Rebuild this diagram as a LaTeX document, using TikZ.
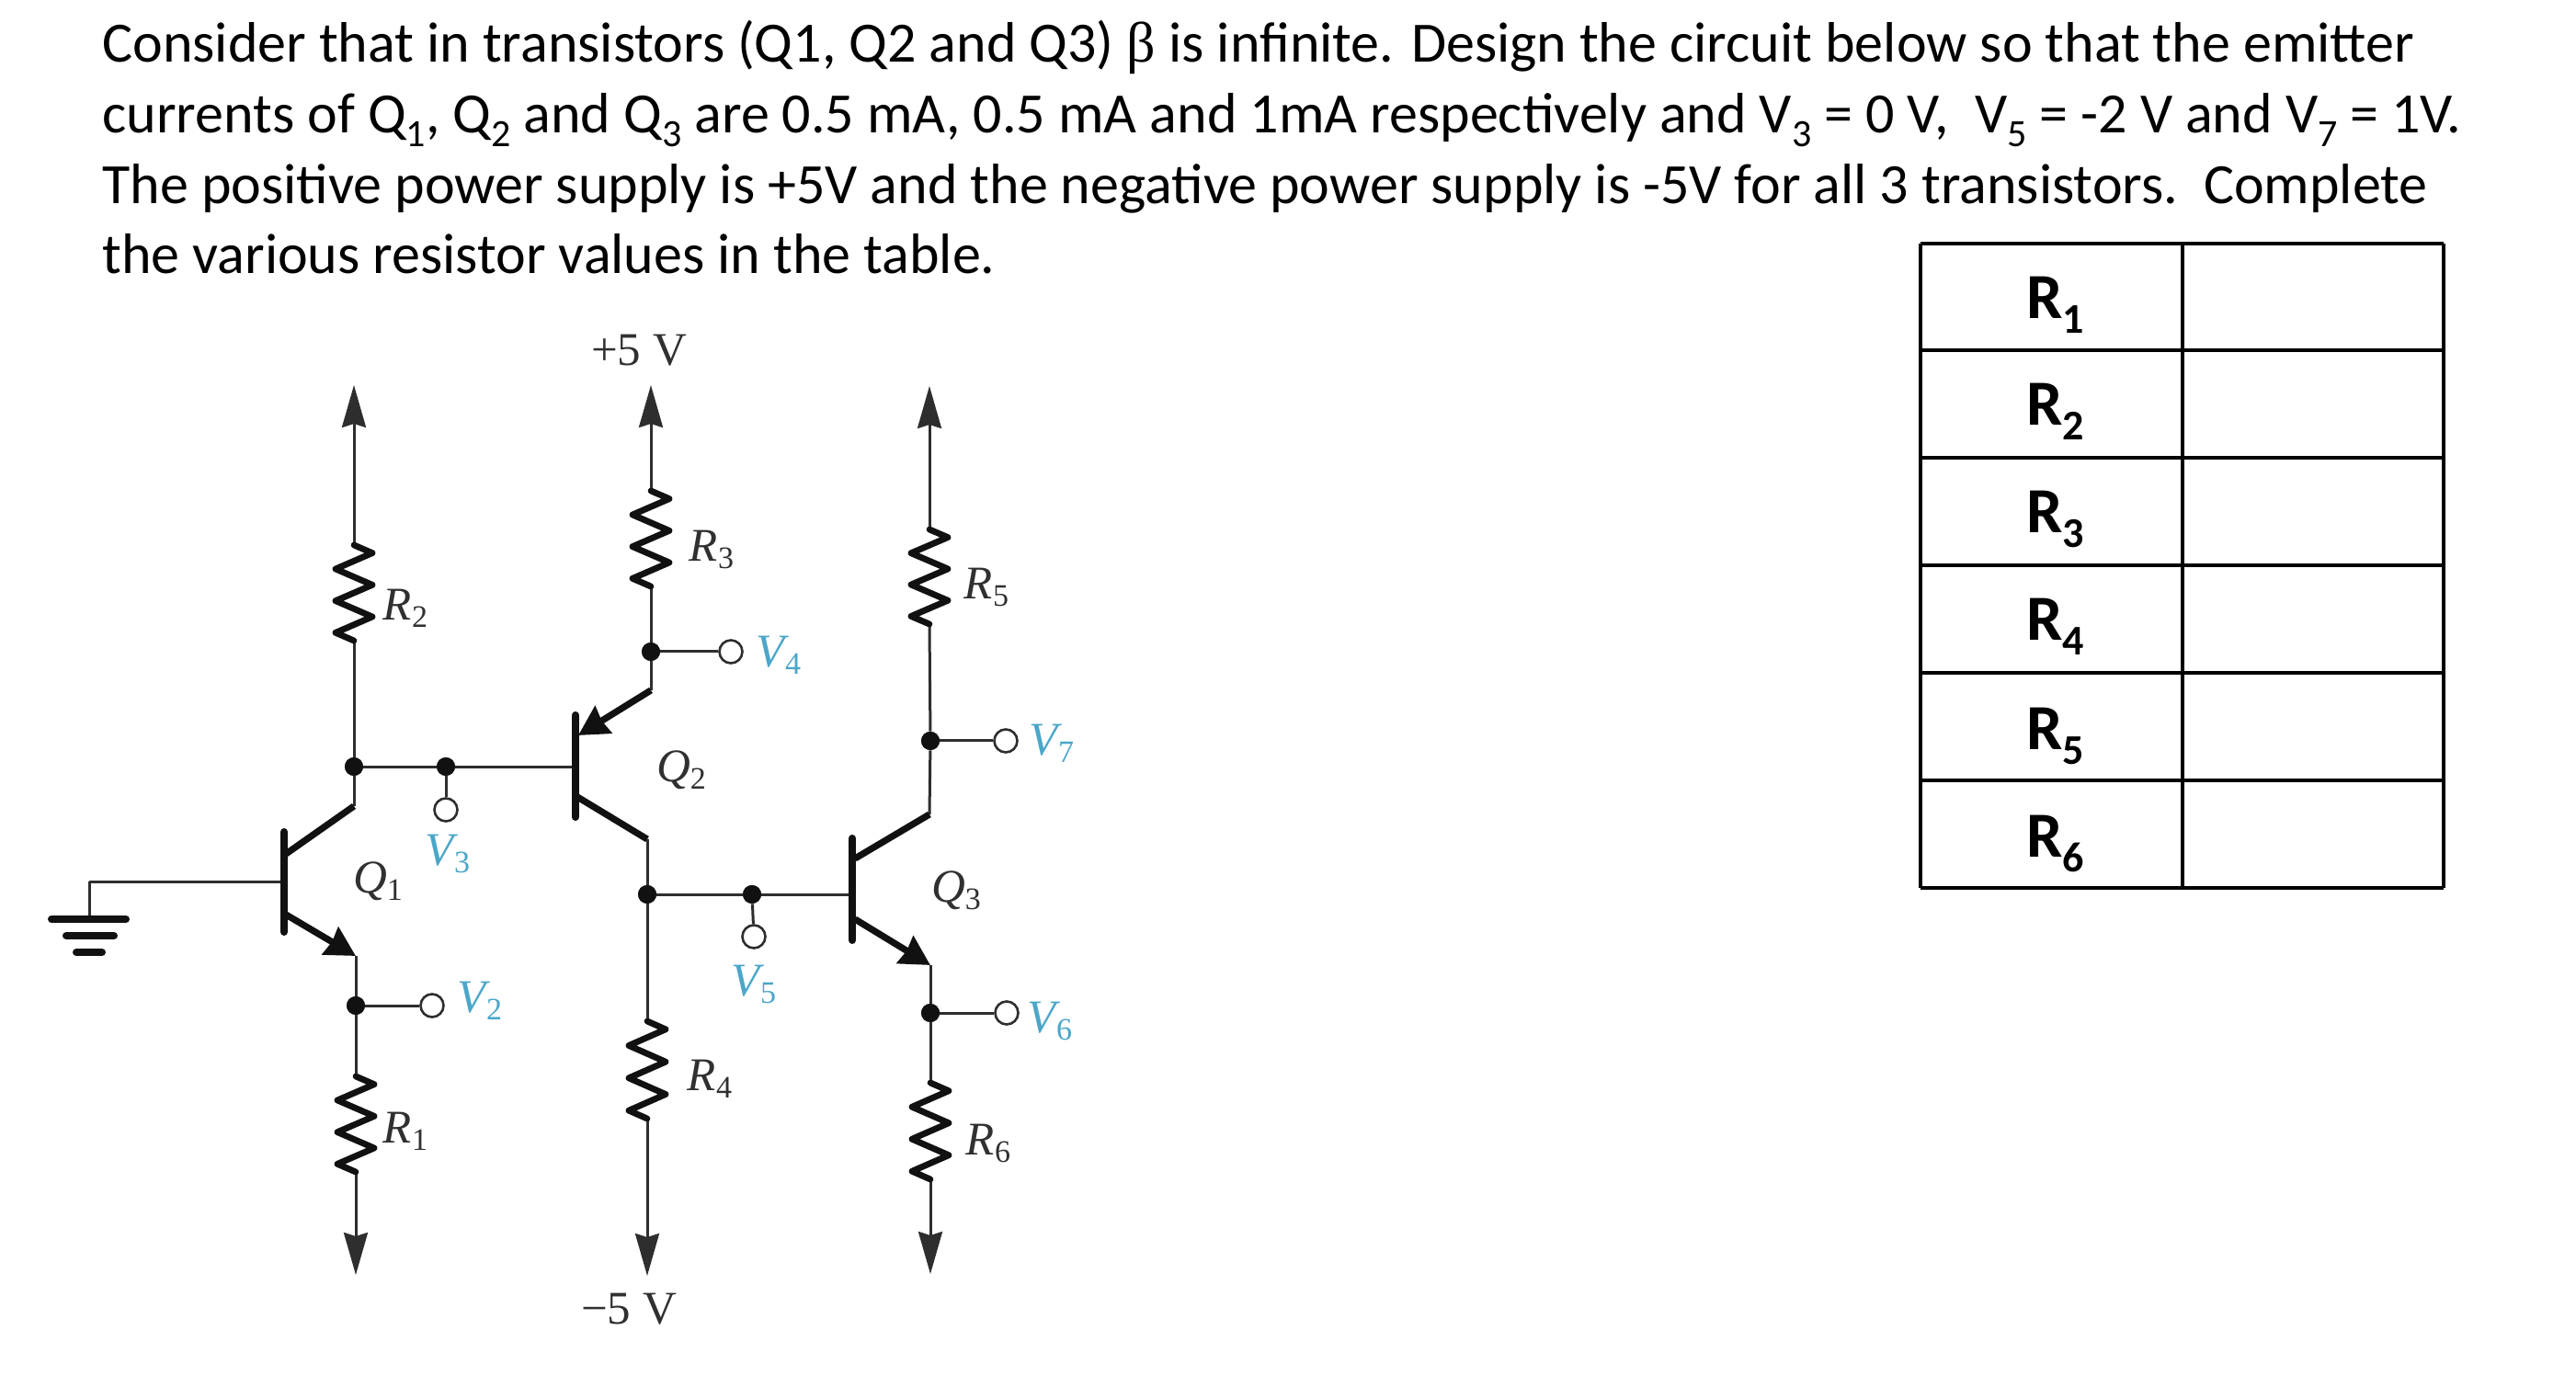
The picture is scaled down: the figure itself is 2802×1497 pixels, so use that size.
\documentclass[tikz,border=0pt]{standalone}
\usepackage{fontspec}
\setmainfont{Carlito}
\newfontfamily\circfont{Liberation Serif}
\usetikzlibrary{arrows.meta,calc}
\definecolor{wirecol}{HTML}{2E2E2E}
\definecolor{inkcol}{HTML}{111111}
\definecolor{labcol}{HTML}{303030}
\definecolor{voltcol}{HTML}{4BA6C9}
\newcommand{\lowd}[1]{\raisebox{-7.5pt}{\fontsize{21}{21}\selectfont #1}}
\newcommand{\clab}[2]{{\itshape #1}\raisebox{-4pt}{\fontsize{17}{17}\selectfont #2}}
\newcommand{\tabR}[1]{R\raisebox{-8pt}{\fontsize{23}{23}\selectfont #1}}
\newcommand{\zigres}[2]{\draw[resline] (#1) -- ($(#1)!0.0833!(#2)+(20,0)$) -- ($(#1)!0.25!(#2)+(-20,0)$) -- ($(#1)!0.4167!(#2)+(20,0)$) -- ($(#1)!0.5833!(#2)+(-20,0)$) -- ($(#1)!0.75!(#2)+(20,0)$) -- ($(#1)!0.9167!(#2)+(-20,0)$) -- (#2);}
\tikzset{
  x=0.5pt,y=-0.5pt,
  para/.style={anchor=base west,inner sep=0pt,font=\fontsize{31}{31}\selectfont,text=black},
  wire/.style={draw=wirecol,line width=1.5pt},
  railtip/.style={wire,-{Stealth[length=23pt,width=13pt,inset=2pt]}},
  thick line/.style={draw=inkcol,line width=3.6pt},
  emit/.style={thick line,-{Stealth[length=16pt,width=17pt,inset=1pt]}},
  bar/.style={draw=inkcol,line width=4pt,line cap=round},
  resline/.style={draw=inkcol,line width=3.4pt,line join=round,line cap=round},
  dotnode/.style={circle,fill=inkcol,inner sep=0pt,minimum size=10pt},
  term/.style={circle,draw=wirecol,fill=white,line width=1.3pt,inner sep=0pt,minimum size=12.5pt},
  gnd/.style={draw=inkcol,line width=4pt,line cap=round},
  clabel/.style={inner sep=0pt,font=\circfont\fontsize{25.5}{25.5}\selectfont,text=labcol},
  vlabel/.style={inner sep=0pt,font=\circfont\fontsize{25.5}{25.5}\selectfont,text=voltcol},
  tabline/.style={draw=black,line width=1.7pt},
  tabtext/.style={anchor=base west,inner sep=0pt,font=\bfseries\fontsize{35}{35}\selectfont,text=black},
}
\begin{document}
\begin{tikzpicture}
\useasboundingbox (0,0) rectangle (2802,1497);
% paragraph
\node[para] (t1) at (111,68) {Consider that in transistors (Q1, Q2 and Q3) {\circfont β} is infinite. Design the circuit below so that the emitter};
\node[para] (t2) at (111,145) {currents of Q\lowd{1}, Q\lowd{2} and Q\lowd{3} are 0.5 mA, 0.5 mA and 1mA respectively and V\lowd{3} = 0 V,\ \ V\lowd{5} = -2 V and V\lowd{7} = 1V.};
\node[para] (t3) at (111,221.5) {The positive power supply is +5V and the negative power supply is -5V for all 3 transistors.\ \ Complete};
\node[para] (t4) at (111,298) {the various resistor values in the table.};
% table
\foreach \yy in {265,381,498,615,732,849,966} \draw[tabline] (2089,\yy) -- (2658,\yy);
\foreach \xx in {2089,2374,2658} \draw[tabline] (\xx,265) -- (\xx,966);
\node[tabtext] (tr1) at (2204,347) {\tabR{1}};
\node[tabtext] (tr2) at (2204,463) {\tabR{2}};
\node[tabtext] (tr3) at (2204,580) {\tabR{3}};
\node[tabtext] (tr4) at (2204,697) {\tabR{4}};
\node[tabtext] (tr5) at (2204,815) {\tabR{5}};
\node[tabtext] (tr6) at (2204,932) {\tabR{6}};
% coordinates
\coordinate (A1) at (385,419); \coordinate (R2t) at (385,593); \coordinate (R2b) at (385,697);
\coordinate (Q1c) at (385,877); \coordinate (Q1cb) at (311,929);
\coordinate (Q1bt) at (309,905); \coordinate (Q1bb) at (309,1014); \coordinate (Q1b) at (309,959);
\coordinate (Q1eb) at (311,995); \coordinate (Q1e) at (387,1040);
\coordinate (gc) at (97,959); \coordinate (g1) at (97,1000);
\coordinate (R1t) at (387,1171); \coordinate (R1b) at (387,1275); \coordinate (A2) at (387,1387);
\coordinate (A3) at (708,419); \coordinate (R3t) at (708,534); \coordinate (R3b) at (708,638);
\coordinate (Q2e) at (708,751); \coordinate (Q2et) at (629,800);
\coordinate (Q2bt) at (626,778); \coordinate (Q2bb) at (626,889); \coordinate (Q2b) at (626,834);
\coordinate (Q2cb) at (628,867); \coordinate (Q2c) at (704,913);
\coordinate (R4t) at (704,1111); \coordinate (R4b) at (704,1217); \coordinate (A4) at (704,1388);
\coordinate (A5) at (1011,420); \coordinate (R5t) at (1011,576); \coordinate (R5b) at (1011,679);
\coordinate (Q3c) at (1011,886); \coordinate (Q3cb) at (930,934);
\coordinate (Q3bt) at (927,912); \coordinate (Q3bb) at (927,1023); \coordinate (Q3b) at (927,973);
\coordinate (Q3eb) at (930,1000); \coordinate (Q3e) at (1012,1050);
\coordinate (R6t) at (1012,1178); \coordinate (R6b) at (1012,1283); \coordinate (A6) at (1012,1386);
% junctions and terminals
\node[dotnode] (J1) at (385,834) {};
\node[dotnode] (J3) at (485,834) {};
\node[dotnode] (J2) at (387,1094) {};
\node[dotnode] (J4) at (708,709) {};
\node[dotnode] (J5a) at (704,973) {};
\node[dotnode] (J5) at (818,973) {};
\node[dotnode] (J7) at (1012,806) {};
\node[dotnode] (J6) at (1012,1102) {};
\node[term] (T3) at (485,881) {};
\node[term] (T2) at (470,1094) {};
\node[term] (T4) at (795,709) {};
\node[term] (T5) at (820,1019) {};
\node[term] (T7) at (1094,806) {};
\node[term] (T6) at (1095,1102) {};
% wires
\begin{scope}[on background layer/.style={}]
\draw[railtip] (R2t) -- (A1);
\draw[wire] (R2b) -- (J1) -- (Q1c);
\draw[wire] (J1) -- (J3) -- (Q2b);
\draw[wire] (J3) -- (T3);
\draw[wire] (gc) -- (Q1b);
\draw[wire] (gc) -- (g1);
\draw[wire] (Q1e) -- (J2) -- (R1t);
\draw[wire] (J2) -- (T2);
\draw[railtip] (R1b) -- (A2);
\draw[railtip] (R3t) -- (A3);
\draw[wire] (R3b) -- (J4) -- (Q2e);
\draw[wire] (J4) -- (T4);
\draw[wire] (Q2c) -- (J5a) -- (R4t);
\draw[wire] (J5a) -- (J5) -- (Q3b);
\draw[wire] (J5) -- (T5);
\draw[railtip] (R4b) -- (A4);
\draw[railtip] (R5t) -- (A5);
\draw[wire] (R5b) -- (J7) -- (Q3c);
\draw[wire] (J7) -- (T7);
\draw[wire] (Q3e) -- (J6) -- (R6t);
\draw[wire] (J6) -- (T6);
\draw[railtip] (R6b) -- (A6);
\end{scope}
\node[dotnode] at (J1) {}; \node[dotnode] at (J3) {}; \node[dotnode] at (J2) {};
\node[dotnode] at (J4) {}; \node[dotnode] at (J5a) {}; \node[dotnode] at (J5) {};
\node[dotnode] at (J7) {}; \node[dotnode] at (J6) {};
% resistors
\zigres{R2t}{R2b}
\zigres{R1t}{R1b}
\zigres{R3t}{R3b}
\zigres{R4t}{R4b}
\zigres{R5t}{R5b}
\zigres{R6t}{R6b}
% transistors
\draw[bar] (Q1bt) -- (Q1bb);
\draw[thick line] (Q1cb) -- (Q1c);
\draw[emit] (Q1eb) -- (Q1e);
\draw[bar] (Q2bt) -- (Q2bb);
\draw[emit] (Q2e) -- (Q2et);
\draw[thick line] (Q2cb) -- (Q2c);
\draw[bar] (Q3bt) -- (Q3bb);
\draw[thick line] (Q3cb) -- (Q3c);
\draw[emit] (Q3eb) -- (Q3e);
% ground
\draw[gnd] (56,1000) -- (137,1000);
\draw[gnd] (72,1018) -- (124,1018);
\draw[gnd] (83,1036) -- (111,1036);
% labels
\node[clabel] (Lp5) at (695,381) {+5 V};
\node[clabel] (Lm5) at (684,1424) {−5 V};
\node[clabel] (LR1) at (441,1231) {\clab{R}{1}};
\node[clabel] (LR2) at (441,662) {\clab{R}{2}};
\node[clabel] (LR3) at (774,598) {\clab{R}{3}};
\node[clabel] (LR4) at (772,1174) {\clab{R}{4}};
\node[clabel] (LR5) at (1073,639) {\clab{R}{5}};
\node[clabel] (LR6) at (1075,1244) {\clab{R}{6}};
\node[clabel] (LQ1) at (411,959) {\clab{Q}{1}};
\node[clabel] (LQ2) at (741,838) {\clab{Q}{2}};
\node[clabel] (LQ3) at (1040,969) {\clab{Q}{3}};
\node[vlabel] (LV2) at (522,1089) {\clab{V}{2}};
\node[vlabel] (LV3) at (487,929) {\clab{V}{3}};
\node[vlabel] (LV4) at (847,713) {\clab{V}{4}};
\node[vlabel] (LV5) at (820,1071) {\clab{V}{5}};
\node[vlabel] (LV6) at (1142,1111) {\clab{V}{6}};
\node[vlabel] (LV7) at (1144,809) {\clab{V}{7}};
\end{tikzpicture}
\end{document}
